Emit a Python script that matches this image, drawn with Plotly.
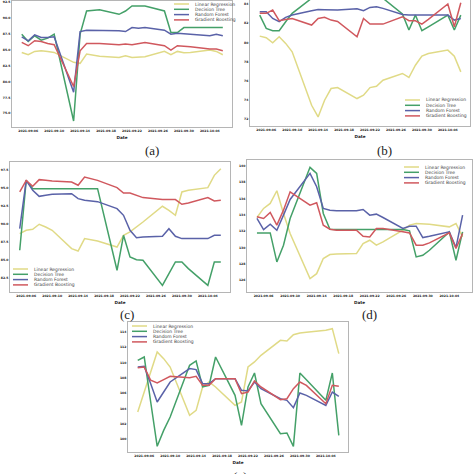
import plotly.graph_objects as go

dates = ["2021-09-05","2021-09-06","2021-09-07","2021-09-08","2021-09-09","2021-09-10",
         "2021-09-13","2021-09-14","2021-09-15","2021-09-16","2021-09-17",
         "2021-09-20","2021-09-21","2021-09-22","2021-09-23","2021-09-24",
         "2021-09-27","2021-09-28","2021-09-29","2021-09-30","2021-10-01",
         "2021-10-04","2021-10-05","2021-10-06"]
date_ticks = ["2021-09-06","2021-09-10","2021-09-14","2021-09-18","2021-09-22","2021-09-26","2021-09-30","2021-10-04"]
model_names = ["Linear Regression", "Decision Tree", "Random Forest", "Gradient Boosting"]

a_lr = [84.58,84.22,84.74,84.84,84.74,84.58,83.02,82.86,84.32,84.17,83.96,83.80,84.06,83.80,83.80,83.91,84.74,84.22,84.74,84.53,84.58,84.95,84.74,84.22]
a_dt = [87.45,86.30,87.19,86.51,86.82,87.45,73.80,87.45,91.09,91.25,91.30,90.57,91.09,91.88,91.88,91.88,91.09,87.71,87.71,88.49,88.49,88.49,88.49,88.49]
a_rf = [87.03,86.41,87.34,86.93,86.93,87.03,78.33,87.86,88.07,88.07,88.07,87.97,87.86,88.49,88.39,88.49,88.07,87.45,87.60,87.55,87.45,87.19,87.45,87.19]
a_gb = [86.15,85.63,86.41,86.30,85.99,85.78,79.22,84.84,85.99,85.99,85.99,85.78,85.89,85.78,85.99,86.15,85.63,84.95,85.63,85.57,85.47,85.10,85.10,84.84]
a_ticks = [92.5, 90.0, 87.5, 85.0, 82.5, 80.0, 77.5, 75.0]

b_lr = [80.66,80.49,79.97,80.59,79.90,79.03,73.46,72.24,73.98,75.20,75.30,74.16,74.50,75.30,75.44,76.07,76.77,76.35,77.63,78.57,78.85,79.20,78.57,76.94]
b_dt = [82.85,81.46,81.22,81.22,82.16,83.03,84.60,84.60,84.60,84.60,84.60,84.60,84.60,84.60,84.60,84.60,82.96,81.29,82.85,81.22,81.63,82.85,81.29,82.85]
b_rf = [83.20,83.20,82.50,82.16,82.61,82.85,83.30,83.44,83.41,83.37,83.37,83.51,83.30,83.65,83.72,83.55,82.92,82.85,82.85,82.85,82.85,82.85,82.33,82.50]
b_gb = [83.03,83.03,83.37,82.26,82.40,82.50,81.81,82.50,82.61,82.33,82.19,80.59,82.50,81.91,81.91,81.91,82.68,82.26,82.26,81.91,82.40,84.00,81.63,84.14]
b_ticks = [84, 82, 80, 78, 76, 74, 72]

c_lr = [88.66,89.13,89.27,89.97,89.59,89.13,86.57,86.24,87.97,87.83,87.64,86.80,88.43,88.90,89.59,90.29,92.48,91.92,91.22,94.48,94.71,95.08,96.80,97.73]
c_dt = [86.34,96.10,94.94,94.94,94.94,94.94,94.94,94.94,94.94,94.94,94.94,83.55,88.43,85.41,85.03,84.94,81.45,83.08,84.71,84.71,83.78,81.45,84.71,84.71]
c_rf = [89.36,96.10,94.71,93.87,94.01,94.15,94.24,93.55,93.31,93.22,93.13,92.15,91.22,89.13,88.10,88.20,88.29,89.36,88.29,87.97,87.97,87.97,88.43,88.43]
c_gb = [94.48,96.10,95.27,96.20,96.10,96.01,95.87,95.41,96.57,96.34,96.10,95.08,94.34,94.34,94.01,93.69,93.41,93.41,93.41,92.76,92.94,93.69,93.22,93.31]
c_ticks = [97.5, 95.0, 92.5, 90.0, 87.5, 85.0, 82.5]

d_lr = [133.69,134.80,135.41,136.97,134.18,131.72,126.19,126.80,128.65,129.14,129.22,129.26,130.49,130.90,130.29,130.70,132.13,132.75,132.95,132.95,132.87,132.54,132.95,131.31]
d_dt = [131.80,131.80,131.80,128.24,130.29,133.57,139.84,139.10,134.18,132.25,132.21,132.21,132.21,132.21,132.21,132.21,132.21,132.05,128.85,129.06,129.67,131.93,128.44,131.93]
d_rf = [133.57,132.21,132.87,132.13,133.98,135.90,139.10,137.46,134.80,134.59,134.51,134.51,134.67,133.98,134.10,133.69,132.34,132.62,132.62,131.23,131.39,131.93,130.00,133.98]
d_gb = [133.77,133.57,134.30,132.75,134.59,136.84,135.20,135.49,132.75,132.25,132.13,132.13,131.39,131.31,132.34,132.34,131.93,131.80,130.29,130.29,130.57,131.80,129.88,131.72]
d_ticks = [140, 138, 136, 134, 132, 130, 128, 126]

e_lr = [103.57,106.17,108.78,111.39,110.52,109.43,103.13,103.78,106.83,107.48,106.83,104.43,104.87,109.43,110.09,110.96,112.91,112.83,113.65,113.87,113.96,114.22,114.43,111.17]
e_dt = [110.30,110.74,104.87,99.09,101.17,102.91,109.65,110.22,106.83,107.04,110.74,105.74,101.83,106.83,108.65,104.65,100.74,100.83,99.09,108.65,107.78,105.09,108.65,100.52]
e_rf = [109.43,109.52,107.26,104.87,106.17,107.48,109.22,109.09,107.26,107.26,107.91,107.91,106.39,106.30,107.48,106.61,105.30,105.09,104.13,106.04,105.74,104.43,106.17,105.61]
e_gb = [109.35,109.43,107.70,107.35,107.78,108.22,108.04,108.22,107.04,107.04,107.91,107.91,105.96,106.17,107.61,106.83,105.17,105.30,106.61,107.48,107.04,104.65,107.04,106.91]
e_ticks = [114, 112, 110, 108, 106, 104, 102, 100]

colors = ["#e0da86", "#44a068", "#5a62a8", "#d0585e"]

W = 474
def px_x(a, b):
    return [a / W, b / W]
def px_y(top, bottom):
    return [1 - bottom / W, 1 - top / W]

panels = [
    dict(series=[a_lr, a_dt, a_rf, a_gb], ticks=a_ticks, fmt=".1f", yr=[72.86, 92.66],
         dx=px_x(12, 232), dy=px_y(1, 127), leg=(174, 4), cap="(a)", capxy=(152, 150)),
    dict(series=[b_lr, b_dt, b_rf, b_gb], ticks=b_ticks, fmt="d", yr=[71.3, 84.42],
         dx=px_x(250, 470), dy=px_y(0, 126), leg=(405, 100), cap="(b)", capxy=(384, 150)),
    dict(series=[c_lr, c_dt, c_rf, c_gb], ticks=c_ticks, fmt=".1f", yr=[80.52, 98.66],
         dx=px_x(10, 230), dy=px_y(162, 292), leg=(13, 269), cap="(c)", capxy=(127, 314)),
    dict(series=[d_lr, d_dt, d_rf, d_gb], ticks=d_ticks, fmt="d", yr=[124.55, 140.74],
         dx=px_x(247, 472), dy=px_y(160, 292), leg=(404, 167), cap="(d)", capxy=(369, 314)),
    dict(series=[e_lr, e_dt, e_rf, e_gb], ticks=e_ticks, fmt="d", yr=[98.35, 115.3],
         dx=px_x(128, 348), dy=px_y(322, 452), leg=(132, 326), cap="(e)", capxy=(240, 476)),
]

fig = go.Figure()
annotations = []
shapes = []
layout = dict(width=W, height=W, margin=dict(l=0, r=0, t=0, b=0),
              paper_bgcolor="white", plot_bgcolor="white", showlegend=False,
              font=dict(family="DejaVu Sans", color="#333333"))
tickfont = dict(family="DejaVu Sans", size=3.1, color="#222222", weight="bold")

for i, p in enumerate(panels):
    n = i + 1
    xa = "xaxis" if n == 1 else f"xaxis{n}"
    ya = "yaxis" if n == 1 else f"yaxis{n}"
    xref = "x" if n == 1 else f"x{n}"
    yref = "y" if n == 1 else f"y{n}"
    for name, vals, col in zip(model_names, p["series"], colors):
        fig.add_trace(go.Scatter(x=dates, y=vals, mode="lines", name=name,
                                 line=dict(color=col, width=1.5),
                                 xaxis=xref, yaxis=yref))
    layout[xa] = dict(domain=p["dx"], anchor=yref, type="date",
                      range=["2021-09-03 12:00", "2021-10-07 10:00"],
                      tickvals=date_ticks, tickformat="%Y-%m-%d", tickfont=tickfont,
                      tickangle=0,
                      showline=True, mirror=True, linecolor="#b5b5b5", linewidth=1,
                      showgrid=False, zeroline=False, ticks="", ticklen=0,
                      title=dict(text="<b>Date</b>", font=dict(size=4.2, color="#222222"), standoff=4))
    layout[ya] = dict(domain=p["dy"], anchor=xref, range=p["yr"],
                      tickvals=p["ticks"], tickformat=p["fmt"], tickfont=tickfont,
                      showline=True, mirror=True, linecolor="#b5b5b5", linewidth=1,
                      showgrid=False, zeroline=False, ticks="", ticklen=0)
    # legend (manual, compact)
    lx, ly = p["leg"]
    for k, (name, col) in enumerate(zip(model_names, colors)):
        yy = ly + k * 5.3
        shapes.append(dict(type="line", xref="paper", yref="paper",
                           x0=lx / W, x1=(lx + 15) / W, y0=1 - yy / W, y1=1 - yy / W,
                           line=dict(color=col, width=1.5)))
        annotations.append(dict(text=name, xref="paper", yref="paper",
                                x=(lx + 19) / W, y=1 - yy / W, showarrow=False,
                                xanchor="left", yanchor="middle",
                                font=dict(size=4.5, color="#444444")))
    annotations.append(dict(text=p["cap"], xref="paper", yref="paper",
                            x=p["capxy"][0] / W, y=1 - p["capxy"][1] / W,
                            showarrow=False, xanchor="center", yanchor="middle",
                            font=dict(family="Liberation Serif", size=13, color="#222222")))

layout["annotations"] = annotations
layout["shapes"] = shapes
fig.update_layout(**layout)
fig.write_html("out.html")
